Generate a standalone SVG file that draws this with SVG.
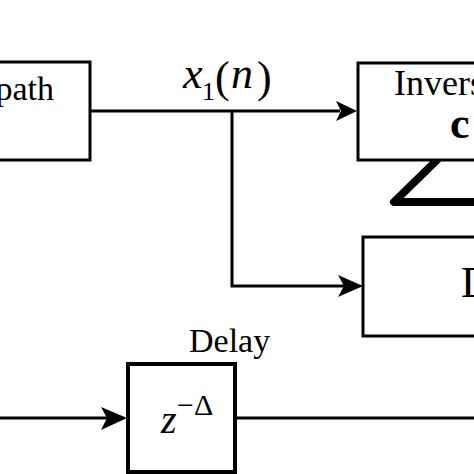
<svg xmlns="http://www.w3.org/2000/svg" width="474" height="474" viewBox="0 0 474 474">
<style>
.box{fill:#fff;stroke:#000;stroke-width:3}
.ln{fill:none;stroke:#000;stroke-width:3}
.t{font-family:"Liberation Serif","Times New Roman",serif;fill:#000}
.m{font-family:"Liberation Serif","Times New Roman",serif;font-style:italic;fill:#000}
</style>
<rect width="474" height="474" fill="#fff"/>
<g id="connectors">
<path class="ln" d="M90,111 H340"/>
<path d="M357,111 L336,101 L341,111 L336,121 Z" fill="#000"/>
<path class="ln" d="M232,111 V286 H345"/>
<path d="M363,286 L338,275 L344,286 L338,297 Z" fill="#000"/>
<path class="ln" d="M0,418 H110"/>
<path d="M127,418 L101,407 L107,418 L101,430 Z" fill="#000"/>
<path class="ln" d="M235,418 H474"/>
<path d="M437,160 L394,202 H474" fill="none" stroke="#000" stroke-width="8" stroke-linecap="round" stroke-linejoin="round"/>
</g>
<g id="path-box">
<rect class="box" x="-10" y="62" width="100" height="98"/>
<text class="t" x="54" y="100" font-size="34" text-anchor="end">path</text>
</g>
<g id="x1-label">
<text class="m" x="183" y="88" font-size="44">x</text>
<text class="t" x="202" y="100" font-size="26">1</text>
<text class="t" x="215" y="92" font-size="44">(</text>
<text class="m" x="231" y="88" font-size="44">n</text>
<text class="t" x="257" y="92" font-size="44">)</text>
</g>
<g id="inverse-box">
<rect class="box" x="358" y="63" width="130" height="97"/>
<text class="t" x="394" y="95" font-size="36">Invers</text>
<text class="t" x="450" y="138" font-size="44" font-weight="bold">c</text>
</g>
<g id="third-box">
<rect class="box" x="363" y="237" width="130" height="99"/>
<text class="t" x="461" y="297" font-size="44">D</text>
</g>
<g id="delay-box">
<rect x="128" y="364" width="107" height="108" fill="#fff" stroke="#000" stroke-width="4"/>
<text class="t" x="189" y="352" font-size="34">Delay</text>
<text class="m" x="161" y="433" font-size="40">z</text>
<text class="t" x="177" y="415" font-size="30">−Δ</text>
</g>
</svg>
